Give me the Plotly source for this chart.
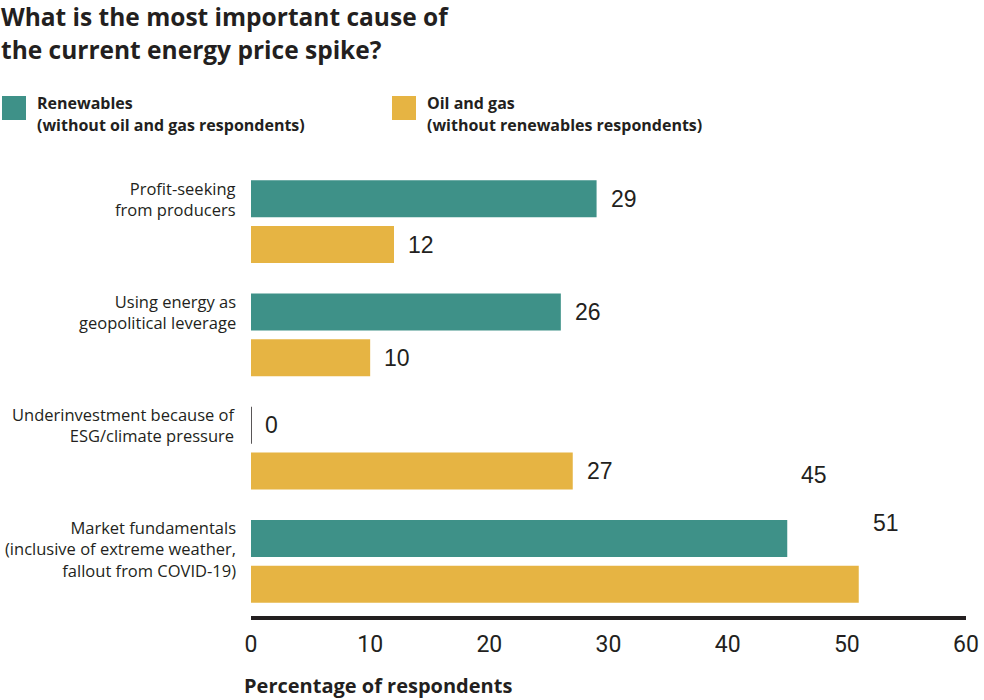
import plotly.graph_objects as go

# ---- data ----
categories = [
    "Profit-seeking<br>from producers",
    "Using energy as<br>geopolitical leverage",
    "Underinvestment because of<br>ESG/climate pressure",
    "Market fundamentals<br>(inclusive of extreme weather,<br>fallout from COVID-19)",
]
series_names = ["Renewables", "Oil and gas"]
series_subtitles = ["(without oil and gas respondents)", "(without renewables respondents)"]
renewables = [29, 26, 0, 45]
oil_gas = [12, 10, 27, 51]
x_ticks = [0, 10, 20, 30, 40, 50, 60]
axis_title = "Percentage of respondents"
title_lines = ["What is the most important cause of", "the current energy price spike?"]

# ---- style ----
TEAL = "#3E9188"
GOLD = "#E6B443"
TXT = "#231F20"
FONT = "Open Sans"
W, H = 984, 700
PLOT_L, PLOT_R, PLOT_T, PLOT_B = 251, 966, 165, 618  # target page pixels
ML, MR, MT, MB = PLOT_L, W - PLOT_R, PLOT_T, H - PLOT_B
PW, PH = W - ML - MR, H - MT - MB

def px_x(px):
    return (px - PLOT_L) / PW

def px_y(py):
    return (PLOT_B - py) / PH

fig = go.Figure()
fig.add_trace(go.Bar(
    y=categories, x=renewables, orientation="h", name=series_names[0],
    marker=dict(color=TEAL,
                line=dict(color=TXT, width=[1.5 if v == 0 else 0 for v in renewables])),
    showlegend=False, hoverinfo="skip",
))
fig.add_trace(go.Bar(
    y=categories, x=oil_gas, orientation="h", name=series_names[1],
    marker=dict(color=GOLD, line=dict(width=0)),
    showlegend=False, hoverinfo="skip",
))

annotations = []
# value labels (the last group's labels sit raised in the original)
lift = {(3, 0): 63, (3, 1): 61}
bar_off = 23
for si, vals in enumerate([renewables, oil_gas]):
    base = bar_off if si == 0 else -bar_off
    for ci, v in enumerate(vals):
        annotations.append(dict(
            x=v, y=categories[ci], xref="x", yref="y", text=str(v), showarrow=False,
            xanchor="left", yanchor="middle", xshift=12, yshift=base + lift.get((ci, si), 0),
            font=dict(family="Liberation Sans", size=23, color=TXT),
        ))

# category labels, aligned to top of each group
for c in categories:
    annotations.append(dict(
        x=0, y=c, xref="x", yref="y", text=c, showarrow=False, align="right",
        xanchor="right", yanchor="top", xshift=-13, yshift=47,
        font=dict(family=FONT, size=16.5, color=TXT),
    ))

# title
for i, line in enumerate(title_lines):
    annotations.append(dict(
        x=px_x(0), y=px_y(16 + 33 * i), xref="paper", yref="paper", text="<b>" + line + "</b>",
        showarrow=False, xanchor="left", yanchor="middle", borderpad=0,
        font=dict(family=FONT, size=24.5, color=TXT),
    ))

# legend
shapes = []
leg_x = [2, 392]
for i, (nm, sub, col) in enumerate(zip(series_names, series_subtitles, [TEAL, GOLD])):
    shapes.append(dict(type="rect", xref="paper", yref="paper",
                       x0=px_x(leg_x[i]), x1=px_x(leg_x[i] + 24),
                       y0=px_y(96), y1=px_y(120), fillcolor=col, line=dict(width=0)))
    for j, t in enumerate([nm, sub]):
        annotations.append(dict(
            x=px_x(leg_x[i] + 33), y=px_y(103 + 22 * j), xref="paper", yref="paper",
            text="<b>" + t + "</b>", showarrow=False, xanchor="left", yanchor="middle",
            font=dict(family=FONT, size=16, color=TXT),
        ))

# axis title
annotations.append(dict(
    x=px_x(242), y=px_y(685), xref="paper", yref="paper", text="<b>" + axis_title + "</b>",
    showarrow=False, xanchor="left", yanchor="middle",
    font=dict(family=FONT, size=20, color=TXT),
))

# bottom axis line
shapes.append(dict(type="line", xref="x", yref="paper", x0=-0.6, x1=x_ticks[-1], y0=0, y1=0,
                   line=dict(color=TXT, width=4)))

fig.update_layout(
    width=W, height=H, margin=dict(l=ML, r=MR, t=MT, b=MB, autoexpand=False),
    paper_bgcolor="white", plot_bgcolor="white",
    barmode="group", bargap=0.19, bargroupgap=0.196,
    annotations=annotations, shapes=shapes,
    xaxis=dict(range=[x_ticks[0], x_ticks[-1]], tickvals=x_ticks, showgrid=False, zeroline=False,
               showline=False, ticks="", ticklabelstandoff=10,
               tickfont=dict(family="Liberation Sans Narrow, Roboto", size=23, color=TXT),
               fixedrange=True),
    yaxis=dict(range=[len(categories) - 0.5, -0.5], showticklabels=False, showgrid=False,
               zeroline=False, showline=False, ticks="", fixedrange=True),
    font=dict(family=FONT, color=TXT),
)

fig.write_html("out.html", config={"displayModeBar": False},
               post_script="document.body.style.margin='0';document.body.style.overflow='hidden';")
